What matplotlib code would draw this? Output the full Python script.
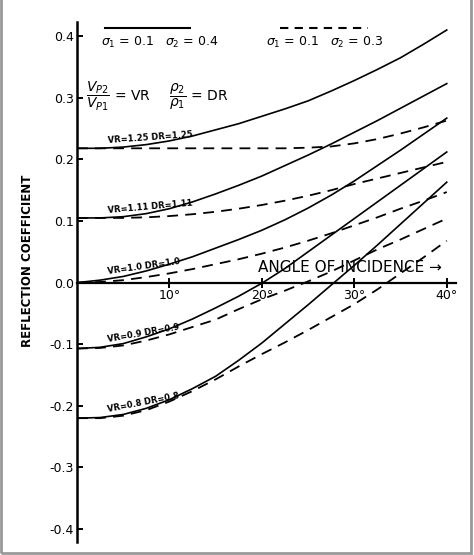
import numpy as np
import matplotlib
matplotlib.use("Agg")
import matplotlib.pyplot as plt
from matplotlib.patches import Rectangle

# angle of incidence (degrees)
angles = [0, 2.5, 5, 7.5, 10, 12.5, 15, 17.5, 20, 22.5, 25, 27.5, 30, 32.5, 35, 37.5, 40]

# solid curves: sigma1 = 0.1, sigma2 = 0.4
solid_125 = [0.218, 0.218, 0.220, 0.224, 0.230, 0.238, 0.248, 0.258, 0.270,
             0.282, 0.295, 0.311, 0.328, 0.346, 0.365, 0.387, 0.410]
solid_111 = [0.105, 0.105, 0.107, 0.112, 0.120, 0.131, 0.144, 0.158, 0.173,
             0.190, 0.207, 0.225, 0.244, 0.263, 0.283, 0.303, 0.323]
solid_100 = [0.000, 0.004, 0.010, 0.019, 0.030, 0.042, 0.056, 0.070, 0.085,
             0.102, 0.121, 0.142, 0.165, 0.190, 0.215, 0.241, 0.267]
solid_090 = [-0.107, -0.105, -0.099, -0.088, -0.075, -0.059, -0.041, -0.022, -0.001,
             0.023, 0.050, 0.077, 0.104, 0.131, 0.158, 0.185, 0.212]
solid_080 = [-0.220, -0.219, -0.214, -0.204, -0.190, -0.172, -0.152, -0.126, -0.098,
             -0.067, -0.036, -0.004, 0.028, 0.061, 0.095, 0.129, 0.163]

# dashed curves: sigma1 = 0.1, sigma2 = 0.3
dash_125 = [0.218, 0.218, 0.218, 0.218, 0.218, 0.218, 0.218, 0.218, 0.218,
            0.218, 0.219, 0.221, 0.226, 0.233, 0.242, 0.252, 0.263]
dash_111 = [0.105, 0.105, 0.105, 0.106, 0.108, 0.111, 0.115, 0.120, 0.126,
            0.133, 0.141, 0.150, 0.160, 0.169, 0.178, 0.187, 0.196]
dash_100 = [0.000, 0.001, 0.004, 0.009, 0.015, 0.022, 0.030, 0.038, 0.047,
            0.057, 0.068, 0.080, 0.093, 0.106, 0.120, 0.133, 0.147]
dash_090 = [-0.107, -0.106, -0.102, -0.094, -0.084, -0.072, -0.060, -0.043, -0.027,
            -0.013, 0.002, 0.018, 0.036, 0.054, 0.070, 0.087, 0.104]
dash_080 = [-0.220, -0.220, -0.216, -0.207, -0.193, -0.176, -0.157, -0.136, -0.116,
            -0.097, -0.077, -0.056, -0.035, -0.011, 0.015, 0.041, 0.068]

curve_labels = ["VR=1.25 DR=1.25", "VR=1.11 DR=1.11", "VR=1.0 DR=1.0",
                "VR=0.9 DR=0.9", "VR=0.8 DR=0.8"]
label_rot = [4, 5, 8, 10, 11]

x_ticks = [10, 20, 30, 40]
x_ticklabels = ["10°", "20°", "30°", "40°"]
y_ticks = [-0.4, -0.3, -0.2, -0.1, 0.0, 0.1, 0.2, 0.3, 0.4]
y_ticklabels = ["-0.4", "-0.3", "-0.2", "-0.1", "0.0", "0.1", "0.2", "0.3", "0.4"]

fig = plt.figure(figsize=(4.74, 5.55), dpi=100)
ax = fig.add_axes([77/474, 13/555, 379/474, 520/555])
ax.set_xlim(0, 41)
ax.set_ylim(-0.421, 0.423)

solids = [solid_125, solid_111, solid_100, solid_090, solid_080]
dashes = [dash_125, dash_111, dash_100, dash_090, dash_080]
for s, d in zip(solids, dashes):
    ax.plot(angles, d, color="black", lw=1.3, dashes=(6, 4))
    ax.plot(angles, s, color="black", lw=1.2)

# curve labels
for s, lab, rot in zip(solids, curve_labels, label_rot):
    y0 = np.interp(3.4, angles, s)
    ax.text(3.4, y0 + 0.004, lab, fontsize=6, fontweight="bold",
            rotation=rot, rotation_mode="anchor", ha="left", va="bottom")

# axes styling
for side in ["top", "right"]:
    ax.spines[side].set_visible(False)
ax.spines["left"].set_linewidth(1.8)
ax.spines["bottom"].set_position(("data", 0))
ax.spines["bottom"].set_linewidth(1.6)
ax.set_xticks(x_ticks)
ax.set_xticklabels(x_ticklabels, fontsize=9)
ax.set_yticks(y_ticks)
ax.set_yticklabels(y_ticklabels, fontsize=9)
ax.tick_params(axis="x", direction="inout", length=7, width=1.4, pad=1)
ax.tick_params(axis="y", direction="in", length=4, width=1.4, pad=2)

ax.text(19.6, 0.012, "ANGLE OF INCIDENCE \u2192", fontsize=11, ha="left", va="bottom")

# legend-like notes at top
ax.plot([3.0, 12.2], [0.414, 0.414], color="black", lw=1.5, clip_on=False)
ax.text(2.6, 0.39, r"$\sigma_1$ = 0.1   $\sigma_2$ = 0.4", fontsize=9, va="center")
ax.plot([22.0, 31.5], [0.414, 0.414], color="black", lw=1.5, dashes=(4, 3), clip_on=False)
ax.text(20.5, 0.39, r"$\sigma_1$ = 0.1   $\sigma_2$ = 0.3", fontsize=9, va="center")

ax.text(1.0, 0.302, r"$\dfrac{V_{P2}}{V_{P1}}$ = VR", fontsize=10, va="center")
ax.text(10.0, 0.302, r"$\dfrac{\rho_2}{\rho_1}$ = DR", fontsize=10, va="center")

fig.text(28/474, 1 - 261/555, "REFLECTION COEFFICIENT", rotation=90,
         fontsize=8.5, fontweight="bold", ha="center", va="center")

fig.patches.append(Rectangle((0.002, 0.004), 0.992, 1.2, transform=fig.transFigure,
                             fill=False, edgecolor="#999999", lw=2))

fig.savefig("out.png", dpi=100)
